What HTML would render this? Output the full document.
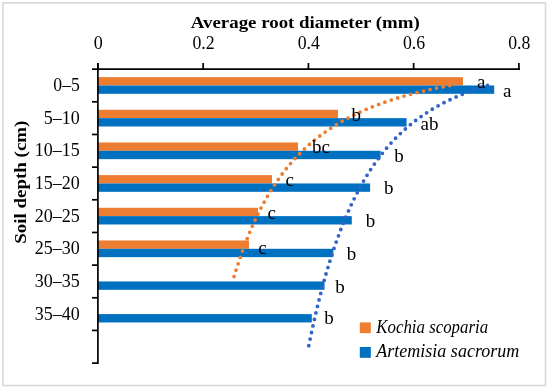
<!DOCTYPE html>
<html><head><meta charset="utf-8"><title>Average root diameter</title>
<style>html,body{margin:0;padding:0;background:#fff}svg{display:block}text{font-family:"Liberation Serif",serif;fill:#000}</style></head><body>
<svg width="550" height="390" viewBox="0 0 550 390">
<rect x="0" y="0" width="550" height="390" fill="#fff"/>
<rect x="2.9" y="2.9" width="542.6" height="382.6" fill="#fff" stroke="#D9D9D9" stroke-width="1.6"/>
<rect x="98" y="77.13" width="365.0" height="8.35" fill="#ED7D31"/>
<rect x="98" y="109.79" width="240.0" height="8.35" fill="#ED7D31"/>
<rect x="98" y="142.45" width="200.0" height="8.35" fill="#ED7D31"/>
<rect x="98" y="175.11" width="174.0" height="8.35" fill="#ED7D31"/>
<rect x="98" y="207.78" width="160.0" height="8.35" fill="#ED7D31"/>
<rect x="98" y="240.44" width="151.0" height="8.35" fill="#ED7D31"/>
<rect x="98" y="85.48" width="396.2" height="8.35" fill="#0070C0"/>
<rect x="98" y="118.14" width="308.6" height="8.35" fill="#0070C0"/>
<rect x="98" y="150.80" width="282.6" height="8.35" fill="#0070C0"/>
<rect x="98" y="183.46" width="272.1" height="8.35" fill="#0070C0"/>
<rect x="98" y="216.13" width="253.8" height="8.35" fill="#0070C0"/>
<rect x="98" y="248.79" width="235.3" height="8.35" fill="#0070C0"/>
<rect x="98" y="281.45" width="226.5" height="8.35" fill="#0070C0"/>
<rect x="98" y="314.11" width="213.8" height="8.35" fill="#0070C0"/>
<path d="M449.72,85.48 L444.60,86.47 L439.70,87.45 L435.01,88.43 L430.50,89.42 L426.17,90.40 L422.01,91.39 L418.01,92.37 L414.15,93.36 L410.42,94.34 L406.83,95.33 L403.36,96.31 L400.01,97.30 L396.76,98.28 L393.62,99.27 L390.57,100.25 L387.62,101.24 L384.76,102.22 L381.98,103.21 L379.28,104.19 L376.66,105.18 L374.10,106.16 L371.62,107.15 L369.21,108.13 L366.86,109.11 L364.57,110.10 L362.33,111.08 L360.16,112.07 L358.03,113.05 L355.96,114.04 L353.94,115.02 L351.96,116.01 L350.03,116.99 L348.14,117.98 L346.30,118.96 L344.49,119.95 L342.73,120.93 L341.00,121.92 L339.31,122.90 L337.66,123.89 L336.03,124.87 L334.44,125.86 L332.89,126.84 L331.36,127.83 L329.86,128.81 L328.39,129.79 L326.95,130.78 L325.54,131.76 L324.15,132.75 L322.79,133.73 L321.45,134.72 L320.14,135.70 L318.85,136.69 L317.58,137.67 L316.33,138.66 L315.11,139.64 L313.90,140.63 L312.72,141.61 L311.55,142.60 L310.40,143.58 L309.28,144.57 L308.17,145.55 L307.07,146.54 L306.00,147.52 L304.94,148.51 L303.90,149.49 L302.87,150.47 L301.86,151.46 L300.86,152.44 L299.88,153.43 L298.91,154.41 L297.96,155.40 L297.01,156.38 L296.09,157.37 L295.17,158.35 L294.27,159.34 L293.38,160.32 L292.51,161.31 L291.64,162.29 L290.79,163.28 L289.94,164.26 L289.11,165.25 L288.29,166.23 L287.48,167.22 L286.68,168.20 L285.89,169.18 L285.11,170.17 L284.34,171.15 L283.58,172.14 L282.83,173.12 L282.09,174.11 L281.36,175.09 L280.63,176.08 L279.92,177.06 L279.21,178.05 L278.51,179.03 L277.82,180.02 L277.14,181.00 L276.46,181.99 L275.79,182.97 L275.13,183.96 L274.48,184.94 L273.83,185.93 L273.20,186.91 L272.56,187.90 L271.94,188.88 L271.32,189.86 L270.71,190.85 L270.11,191.83 L269.51,192.82 L268.91,193.80 L268.33,194.79 L267.75,195.77 L267.17,196.76 L266.61,197.74 L266.04,198.73 L265.49,199.71 L264.94,200.70 L264.39,201.68 L263.85,202.67 L263.31,203.65 L262.78,204.64 L262.26,205.62 L261.74,206.61 L261.22,207.59 L260.71,208.58 L260.21,209.56 L259.71,210.54 L259.21,211.53 L258.72,212.51 L258.23,213.50 L257.75,214.48 L257.27,215.47 L256.80,216.45 L256.33,217.44 L255.87,218.42 L255.40,219.41 L254.95,220.39 L254.49,221.38 L254.05,222.36 L253.60,223.35 L253.16,224.33 L252.72,225.32 L252.29,226.30 L251.86,227.29 L251.43,228.27 L251.01,229.26 L250.59,230.24 L250.17,231.22 L249.76,232.21 L249.35,233.19 L248.94,234.18 L248.54,235.16 L248.14,236.15 L247.74,237.13 L247.35,238.12 L246.96,239.10 L246.57,240.09 L246.19,241.07 L245.81,242.06 L245.43,243.04 L245.05,244.03 L244.68,245.01 L244.31,246.00 L243.95,246.98 L243.58,247.97 L243.22,248.95 L242.86,249.93 L242.51,250.92 L242.15,251.90 L241.80,252.89 L241.46,253.87 L241.11,254.86 L240.77,255.84 L240.43,256.83 L240.09,257.81 L239.75,258.80 L239.42,259.78 L239.09,260.77 L238.76,261.75 L238.43,262.74 L238.11,263.72 L237.79,264.71 L237.47,265.69 L237.15,266.68 L236.84,267.66 L236.52,268.65 L236.21,269.63 L235.90,270.61 L235.60,271.60 L235.29,272.58 L234.99,273.57 L234.69,274.55 L234.39,275.54 L234.09,276.52 L233.80,277.51 L233.51,278.49 L233.22,279.48 L232.93,280.46 L232.64,281.45" fill="none" stroke="#ED7D31" stroke-width="3.8" stroke-linecap="round" stroke-dasharray="0 6.7"/>
<path d="M487.55,85.48 L483.27,86.79 L479.20,88.11 L475.32,89.42 L471.62,90.73 L468.07,92.05 L464.68,93.36 L461.42,94.67 L458.29,95.98 L455.28,97.30 L452.38,98.61 L449.59,99.92 L446.89,101.24 L444.29,102.55 L441.77,103.86 L439.33,105.18 L436.98,106.49 L434.69,107.80 L432.47,109.11 L430.32,110.43 L428.23,111.74 L426.20,113.05 L424.22,114.37 L422.30,115.68 L420.43,116.99 L418.61,118.31 L416.83,119.62 L415.10,120.93 L413.41,122.24 L411.76,123.56 L410.14,124.87 L408.57,126.18 L407.03,127.50 L405.53,128.81 L404.05,130.12 L402.62,131.44 L401.21,132.75 L399.83,134.06 L398.47,135.37 L397.15,136.69 L395.85,138.00 L394.58,139.31 L393.33,140.63 L392.11,141.94 L390.90,143.25 L389.72,144.57 L388.57,145.88 L387.43,147.19 L386.31,148.51 L385.21,149.82 L384.13,151.13 L383.07,152.44 L382.03,153.76 L381.00,155.07 L379.99,156.38 L379.00,157.70 L378.02,159.01 L377.06,160.32 L376.11,161.64 L375.18,162.95 L374.26,164.26 L373.36,165.57 L372.47,166.89 L371.59,168.20 L370.73,169.51 L369.87,170.83 L369.03,172.14 L368.20,173.45 L367.38,174.77 L366.58,176.08 L365.78,177.39 L365.00,178.70 L364.22,180.02 L363.46,181.33 L362.70,182.64 L361.96,183.96 L361.22,185.27 L360.50,186.58 L359.78,187.90 L359.07,189.21 L358.37,190.52 L357.68,191.83 L357.00,193.15 L356.33,194.46 L355.66,195.77 L355.00,197.09 L354.35,198.40 L353.71,199.71 L353.07,201.03 L352.44,202.34 L351.82,203.65 L351.20,204.96 L350.59,206.28 L349.99,207.59 L349.40,208.90 L348.81,210.22 L348.23,211.53 L347.65,212.84 L347.08,214.16 L346.51,215.47 L345.96,216.78 L345.40,218.09 L344.85,219.41 L344.31,220.72 L343.78,222.03 L343.24,223.35 L342.72,224.66 L342.20,225.97 L341.68,227.29 L341.17,228.60 L340.66,229.91 L340.16,231.22 L339.67,232.54 L339.17,233.85 L338.69,235.16 L338.20,236.48 L337.73,237.79 L337.25,239.10 L336.78,240.42 L336.32,241.73 L335.85,243.04 L335.40,244.35 L334.94,245.67 L334.49,246.98 L334.05,248.29 L333.60,249.61 L333.17,250.92 L332.73,252.23 L332.30,253.55 L331.87,254.86 L331.45,256.17 L331.03,257.48 L330.61,258.80 L330.20,260.11 L329.79,261.42 L329.38,262.74 L328.98,264.05 L328.58,265.36 L328.18,266.68 L327.79,267.99 L327.40,269.30 L327.01,270.61 L326.62,271.93 L326.24,273.24 L325.86,274.55 L325.49,275.87 L325.11,277.18 L324.74,278.49 L324.37,279.81 L324.01,281.12 L323.64,282.43 L323.29,283.74 L322.93,285.06 L322.57,286.37 L322.22,287.68 L321.87,289.00 L321.52,290.31 L321.18,291.62 L320.84,292.94 L320.50,294.25 L320.16,295.56 L319.82,296.88 L319.49,298.19 L319.16,299.50 L318.83,300.81 L318.51,302.13 L318.18,303.44 L317.86,304.75 L317.54,306.07 L317.22,307.38 L316.91,308.69 L316.59,310.01 L316.28,311.32 L315.97,312.63 L315.66,313.94 L315.36,315.26 L315.06,316.57 L314.75,317.88 L314.45,319.20 L314.16,320.51 L313.86,321.82 L313.57,323.14 L313.27,324.45 L312.98,325.76 L312.70,327.07 L312.41,328.39 L312.12,329.70 L311.84,331.01 L311.56,332.33 L311.28,333.64 L311.00,334.95 L310.72,336.27 L310.45,337.58 L310.17,338.89 L309.90,340.20 L309.63,341.52 L309.36,342.83 L309.10,344.14 L308.83,345.46 L308.57,346.77" fill="none" stroke="#3062C8" stroke-width="3.8" stroke-linecap="round" stroke-dasharray="0 6.7"/>
<path d="M97.9 63 V363.95" stroke="#000" stroke-width="1.7" fill="none"/>
<path d="M97 69.15 H520" stroke="#000" stroke-width="1.7" fill="none"/>
<path d="M97.90 63 V69.15" stroke="#000" stroke-width="1.7" fill="none"/>
<path d="M203.15 63 V69.15" stroke="#000" stroke-width="1.7" fill="none"/>
<path d="M308.40 63 V69.15" stroke="#000" stroke-width="1.7" fill="none"/>
<path d="M413.65 63 V69.15" stroke="#000" stroke-width="1.7" fill="none"/>
<path d="M518.90 63 V69.15" stroke="#000" stroke-width="1.7" fill="none"/>
<path d="M92 69.15 H98" stroke="#000" stroke-width="1.7" fill="none"/>
<path d="M92 101.81 H98" stroke="#000" stroke-width="1.7" fill="none"/>
<path d="M92 134.47 H98" stroke="#000" stroke-width="1.7" fill="none"/>
<path d="M92 167.13 H98" stroke="#000" stroke-width="1.7" fill="none"/>
<path d="M92 199.79 H98" stroke="#000" stroke-width="1.7" fill="none"/>
<path d="M92 232.46 H98" stroke="#000" stroke-width="1.7" fill="none"/>
<path d="M92 265.12 H98" stroke="#000" stroke-width="1.7" fill="none"/>
<path d="M92 297.78 H98" stroke="#000" stroke-width="1.7" fill="none"/>
<path d="M92 330.44 H98" stroke="#000" stroke-width="1.7" fill="none"/>
<path d="M92 363.10 H98" stroke="#000" stroke-width="1.7" fill="none"/>
<text x="98.30" y="48.7" font-size="18" text-anchor="middle" textLength="9" lengthAdjust="spacingAndGlyphs">0</text>
<text x="203.55" y="48.7" font-size="18" text-anchor="middle" textLength="22.2" lengthAdjust="spacingAndGlyphs">0.2</text>
<text x="308.80" y="48.7" font-size="18" text-anchor="middle" textLength="22.2" lengthAdjust="spacingAndGlyphs">0.4</text>
<text x="414.05" y="48.7" font-size="18" text-anchor="middle" textLength="22.2" lengthAdjust="spacingAndGlyphs">0.6</text>
<text x="519.30" y="48.7" font-size="18" text-anchor="middle" textLength="22.2" lengthAdjust="spacingAndGlyphs">0.8</text>
<text x="79.8" y="90.88" font-size="18" text-anchor="end" textLength="26.5" lengthAdjust="spacingAndGlyphs">0–5</text>
<text x="79.8" y="123.54" font-size="18" text-anchor="end" textLength="36" lengthAdjust="spacingAndGlyphs">5–10</text>
<text x="79.8" y="156.20" font-size="18" text-anchor="end" textLength="45" lengthAdjust="spacingAndGlyphs">10–15</text>
<text x="79.8" y="188.86" font-size="18" text-anchor="end" textLength="45" lengthAdjust="spacingAndGlyphs">15–20</text>
<text x="79.8" y="221.53" font-size="18" text-anchor="end" textLength="45" lengthAdjust="spacingAndGlyphs">20–25</text>
<text x="79.8" y="254.19" font-size="18" text-anchor="end" textLength="45" lengthAdjust="spacingAndGlyphs">25–30</text>
<text x="79.8" y="286.85" font-size="18" text-anchor="end" textLength="45" lengthAdjust="spacingAndGlyphs">30–35</text>
<text x="79.8" y="319.51" font-size="18" text-anchor="end" textLength="45" lengthAdjust="spacingAndGlyphs">35–40</text>
<text x="190.8" y="27.9" font-size="17.5" font-weight="bold" textLength="229" lengthAdjust="spacingAndGlyphs">Average root diameter (mm)</text>
<text transform="translate(26.0 243.8) rotate(-90)" font-size="17.5" font-weight="bold" textLength="123.2" lengthAdjust="spacingAndGlyphs">Soil depth (cm)</text>
<text x="477.1" y="88.39999999999999" font-size="19">a</text>
<text x="351.6" y="120.6" font-size="19">b</text>
<text x="312.0" y="152.6" font-size="19">bc</text>
<text x="285.6" y="185.6" font-size="19">c</text>
<text x="267.6" y="219.0" font-size="19">c</text>
<text x="258.20000000000005" y="254.2" font-size="19">c</text>
<text x="503.1" y="97.1" font-size="19">a</text>
<text x="420.5" y="129.9" font-size="19">ab</text>
<text x="394.3" y="162.4" font-size="19">b</text>
<text x="384.0" y="194.1" font-size="19">b</text>
<text x="365.8" y="227.4" font-size="19">b</text>
<text x="346.7" y="259.8" font-size="19">b</text>
<text x="335.2" y="292.8" font-size="19">b</text>
<text x="324.3" y="323.6" font-size="19">b</text>
<rect x="359.8" y="322.4" width="11" height="10.8" fill="#ED7D31"/>
<rect x="359.8" y="347" width="11" height="10.8" fill="#0070C0"/>
<text x="376.3" y="332.6" font-size="18" font-style="italic" textLength="111.8" lengthAdjust="spacingAndGlyphs">Kochia scoparia</text>
<text x="376.3" y="357.4" font-size="18" font-style="italic" textLength="143" lengthAdjust="spacingAndGlyphs">Artemisia sacrorum</text>
</svg></body></html>
